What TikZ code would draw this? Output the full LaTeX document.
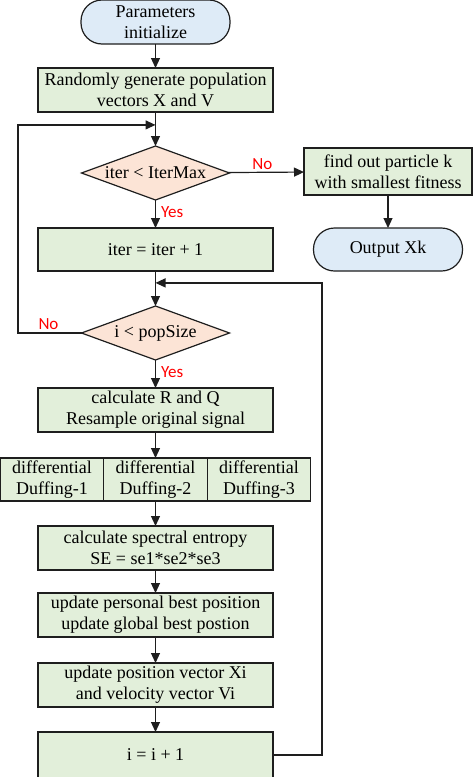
\documentclass[tikz,border=0pt]{standalone}
\usepackage{fontspec}
\setmainfont{Liberation Serif}
\newfontfamily\labelfont{Carlito}
\usetikzlibrary{positioning, arrows.meta, shapes.geometric, calc}
\definecolor{cStep}{RGB}{226,239,218}
\definecolor{cTerm}{RGB}{222,235,247}
\definecolor{cCond}{RGB}{252,228,214}
\definecolor{cLine}{RGB}{30,30,30}
\tikzset{
    stepbox/.style={
        rectangle, draw=cLine, line width=1.2pt, fill=cStep,
        align=center, inner sep=0pt, outer sep=0pt,
        font=\fontsize{18}{21}\selectfont,
        minimum height=44pt, minimum width=235pt,
    },
    dufbox/.style={
        stepbox, minimum width=103.5pt, minimum height=43pt,
    },
    term/.style={
        rectangle, rounded corners=21pt, draw=cLine, line width=1.2pt,
        fill=cTerm, align=center, inner sep=0pt, outer sep=0pt,
        font=\fontsize{18}{21}\selectfont,
        minimum height=44pt, minimum width=149pt,
    },
    cond/.style={
        diamond, aspect=2.74, draw=cLine, line width=1.2pt, fill=cCond,
        inner sep=0pt, outer sep=0pt, font=\fontsize{18}{21}\selectfont,
        minimum width=148pt, minimum height=54pt,
    },
    flow/.style={
        -{Triangle[length=10pt,width=9pt]}, line width=1.2pt, draw=cLine
    },
    yn/.style={font=\labelfont\fontsize{17}{17}\selectfont, text=red, inner sep=0pt},
}
\begin{document}
\begin{tikzpicture}[x=1pt, y=-1pt]
\useasboundingbox (0,0) rectangle (474,777);

% main column
\node[term] (init) at (155.5,22) {Parameters\\initialize};
\node[stepbox, below=24pt of init] (gen) {Randomly generate population\\vectors X and V};
\node[cond, below=34pt of gen] (iterchk) {iter < IterMax};
\node[stepbox, below=28pt of iterchk, minimum height=43pt] (iterinc) {iter = iter + 1};
\node[cond, below=35pt of iterinc] (popchk) {i < popSize};
\node[stepbox, below=28pt of popchk] (resamp) {calculate R and Q\\Resample original signal};

% three Duffing systems side by side
\node[dufbox, below=26pt of resamp] (duf2) {differential\\Duffing-2};
\node[dufbox, left=0pt of duf2] (duf1) {differential\\Duffing-1};
\node[dufbox, right=0pt of duf2] (duf3) {differential\\Duffing-3};

\node[stepbox, below=25pt of duf2] (entropy) {calculate spectral entropy\\SE = se1*se2*se3};
\node[stepbox, below=23pt of entropy] (best) {update personal best position\\update global best postion};
\node[stepbox, below=26pt of best] (update) {update position vector Xi\\and velocity vector Vi};
\node[stepbox, below=25pt of update, minimum height=46pt] (iinc) {i = i + 1};

% exit branch
\node[stepbox, minimum width=168pt, minimum height=47pt] (find) at (388,171.5) {find out particle k\\with smallest fitness};
\node[term, below=33pt of find, minimum height=43pt] (out) {Output Xk};

% loop joints
\coordinate (outerjoin) at ($(gen.south)!0.38!(iterchk.north)$);
\coordinate (innerjoin) at ($(iterinc.south)!0.34!(popchk.north)$);
\coordinate (leftrail) at (18,0);
\coordinate (rightrail) at (322,0);

% arrows
\draw[flow] (init) -- (gen);
\draw[flow] (gen) -- (iterchk);
\draw[flow] (iterchk) -- node[yn, pos=0.45, right=5pt] {Yes} (iterinc);
\draw[flow] (iterchk) -- node[yn, pos=0.45, above=2pt] {No} (find);
\draw[flow] (find) -- (out);
\draw[flow] (iterinc) -- (popchk);
\draw[flow] (popchk) -- node[yn, pos=0.45, right=5pt] {Yes} (resamp);
\draw[flow] (resamp) -- (duf2);
\draw[flow] (duf2) -- (entropy);
\draw[flow] (entropy) -- (best);
\draw[flow] (best) -- (update);
\draw[flow] (update) -- (iinc);

% inner loop back
\draw[flow] (iinc.east) -| (rightrail |- innerjoin) -- (innerjoin);
% outer loop back
\draw[flow] (popchk.west) -- node[yn, pos=0.52, above=3pt] {No} (leftrail |- popchk.west)
    -- (leftrail |- outerjoin) -- (outerjoin);

\end{tikzpicture}
\end{document}
